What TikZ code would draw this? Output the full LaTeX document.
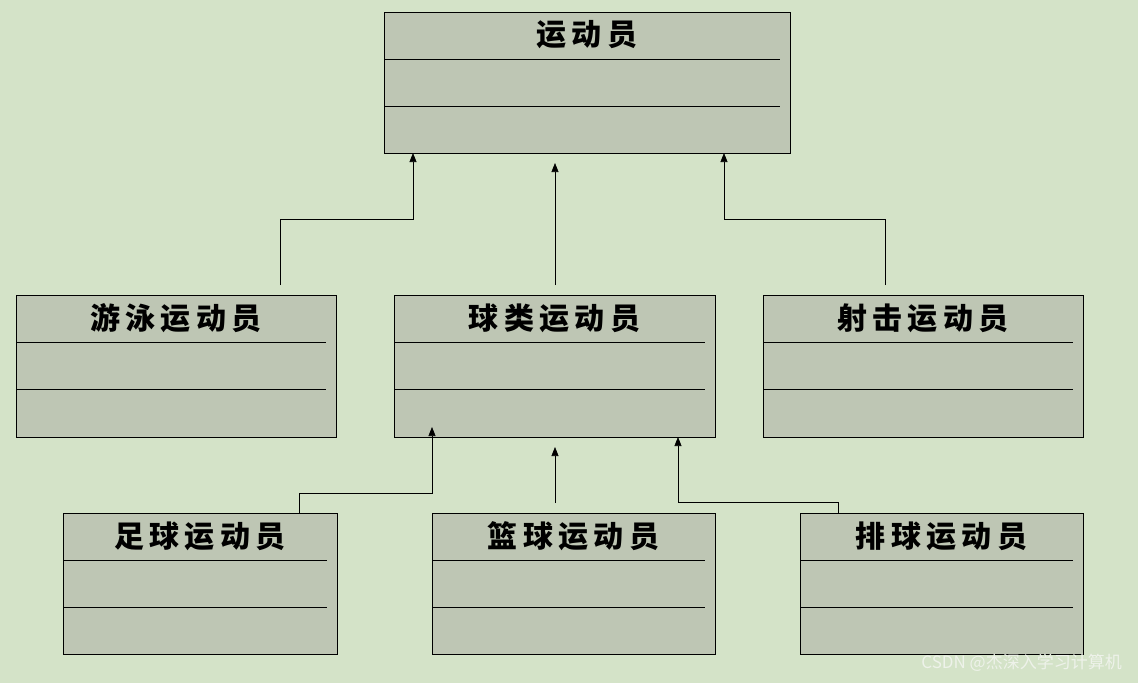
\documentclass[tikz,border=0pt]{standalone}
\usepackage{fontspec}
\newfontfamily\cjk{Noto Sans CJK SC}
\newfontfamily\cjkw[LetterSpace=18]{Noto Sans CJK SC}
\usetikzlibrary{arrows.meta}
\definecolor{bg}{HTML}{D4E3C8}
\definecolor{boxc}{HTML}{BEC6B4}
\definecolor{wmc}{HTML}{EEF2EA}
\begin{document}
\begin{tikzpicture}[x=1pt,y=-1pt,
  cls/.style={draw=black,fill=boxc,line width=0.8pt},
  lab/.style={font=\cjkw\bfseries\fontsize{30}{30}\selectfont,inner sep=0pt},
  conn/.style={line width=0.6pt,-{Triangle[length=9pt,width=7pt]}}]
\fill[bg] (0,0) rectangle (1138,683);
\useasboundingbox (0,0) rectangle (1138,683);
\newcommand\umlbox[6]{%
  \draw[cls] (#2,#3) rectangle (#4,#5);
  \draw[line width=0.6pt] (#2,#3+47) -- (#4-10,#3+47);
  \draw[line width=0.6pt] (#2,#3+94) -- (#4-10,#3+94);
  \node[lab] (#1) at ({(#2+#4)/2},#3+23) {#6};
  \coordinate (#1-top) at ({(#2+#4)/2},#3);
}
\umlbox{a}{384}{12}{790}{153}{运动员}
\umlbox{sw}{16}{295}{336}{437}{游泳运动员}
\umlbox{ball}{394}{295}{715}{437}{球类运动员}
\umlbox{sh}{763}{295}{1083}{437}{射击运动员}
\umlbox{fb}{63}{513}{337}{654}{足球运动员}
\umlbox{bb}{432}{513}{715}{654}{篮球运动员}
\umlbox{vb}{800}{513}{1083}{654}{排球运动员}
\coordinate (c1) at (280,285); \coordinate (t1) at (413,153);
\coordinate (c2) at (555,285); \coordinate (t2) at (555,163);
\coordinate (c3) at (885,285); \coordinate (t3) at (724,153);
\coordinate (c4) at (299,513); \coordinate (t4) at (432,427);
\coordinate (c5) at (555,503); \coordinate (t5) at (555,447);
\coordinate (c6) at (838,513); \coordinate (t6) at (678,437);
\draw[conn] (c1) |- (413,219) -- (t1);
\draw[conn] (c2) -- (t2);
\draw[conn] (c3) |- (724,219) -- (t3);
\draw[conn] (c4) |- (432,493) -- (t4);
\draw[conn] (c5) -- (t5);
\draw[conn] (c6) |- (678,502) -- (t6);
\node[font=\cjk\fontsize{17}{17}\selectfont,text=wmc,anchor=east,inner sep=0pt] (wm) at (1122,663) {CSDN @杰深入学习计算机};
\end{tikzpicture}
\end{document}
